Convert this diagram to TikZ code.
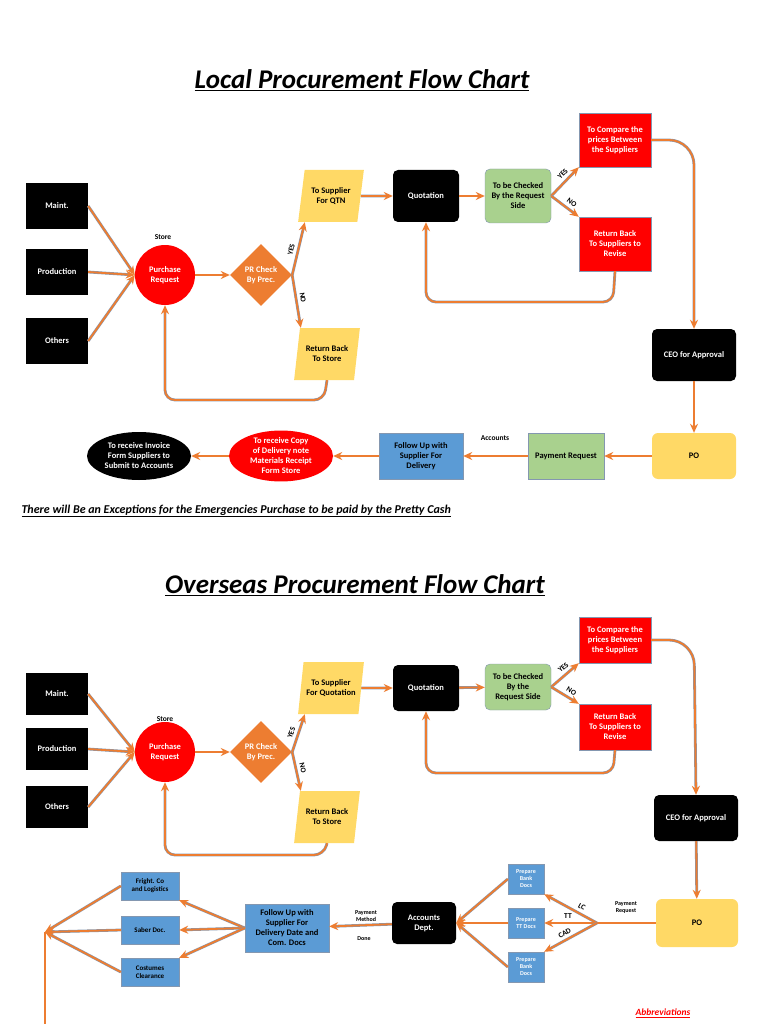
\documentclass[tikz,border=0pt]{standalone}
\usepackage{fontspec}
\setmainfont{Carlito}
\usetikzlibrary{shapes.geometric,arrows.meta,calc}
\definecolor{orng}{HTML}{ED7D31}
\definecolor{outl}{HTML}{8497B0}
\definecolor{ylw}{HTML}{FFD966}
\definecolor{grn}{HTML}{A9D18E}
\definecolor{blu}{HTML}{5B9BD5}
\tikzset{%
  base/.style = {font=\fontsize{8.5}{10}\selectfont\bfseries, align=center, inner sep=1pt},
  blk/.style = {base, rectangle, fill=black, text=white, minimum width=62pt, minimum height=46pt},
  blkr/.style = {blk, rounded corners=5pt},
  rbox/.style = {base, rectangle, fill=red, text=white, draw=outl, minimum width=72pt, minimum height=54pt},
  circ/.style = {base, circle, fill=red, text=white, minimum size=60pt},
  dia/.style = {base, diamond, fill=orng, text=white, minimum size=62pt, aspect=1, inner sep=0pt},
  para/.style = {base, trapezium, trapezium left angle=75, trapezium right angle=105,
        trapezium stretches=true, fill=ylw, minimum width=66pt, minimum height=52pt},
  grnr/.style = {base, rectangle, rounded corners=5pt, fill=grn, draw=outl, minimum width=66pt, minimum height=54pt},
  bbox/.style = {base, rectangle, fill=blu, draw=outl, minimum width=84pt, minimum height=46pt},
  sbox/.style = {base, rectangle, fill=blu, draw=outl, text=white, font=\fontsize{6}{7}\selectfont\bfseries},
  ylwr/.style = {base, rectangle, rounded corners=6pt, fill=ylw, minimum width=84pt, minimum height=46pt},
  lab/.style = {font=\fontsize{7.5}{8.5}\selectfont\bfseries, inner sep=1.5pt, align=center},
  slab/.style = {lab, font=\fontsize{6}{7}\selectfont\bfseries},
  ttl/.style = {font=\fontsize{27}{30}\selectfont\bfseries\itshape},
  arr/.style = {draw=orng, line width=1.8pt, -{Stealth[length=9pt,width=8pt]},
        preaction={draw=outl, line width=2.8pt, -, shorten >=6pt}},
  ln/.style = {draw=orng, line width=1.8pt, preaction={draw=outl, line width=2.8pt}}
}
\begin{document}
\begin{tikzpicture}[x=1pt,y=-1pt]
\useasboundingbox[fill=white] (0,0) rectangle (768,1024);

% ---------------- Local ----------------
\node[ttl] (t1) at (362,80) {\underline{Local Procurement Flow Chart}};
\node[blk] (m1) at (57,206) {Maint.};
\node[blk] (p1) at (57,272) {Production};
\node[blk] (o1) at (57,341) {Others};
\node[circ] (pr1) at (165,275) {Purchase\\Request};
\node[lab] (st1) at (163,237) {Store};
\node[dia] (ck1) at (261,275) {PR Check\\By Prec.};
\node[para] (qs1) at (331,196) {To Supplier\\For QTN};
\node[para] (rb1) at (327,354) {Return Back\\To Store};
\node[blkr, minimum width=66pt, minimum height=52pt] (q1) at (426,196) {Quotation};
\node[grnr] (cr1) at (518,196) {To be Checked\\By the Request\\Side};
\node[rbox] (cp1) at (615,140) {To Compare the\\prices Between\\the Suppliers};
\node[rbox] (rs1) at (615,244) {Return Back\\To Suppliers to\\Revise};
\node[blkr, minimum width=84pt, minimum height=52pt] (ceo1) at (694,355) {CEO for Approval};
\node[ylwr] (po1) at (694,456) {PO};
\node[base, rectangle, fill=grn, draw=outl, minimum width=76pt, minimum height=46pt] (pay1) at (566,456) {Payment Request};
\node[bbox] (fu1) at (421,456) {Follow Up with\\Supplier For\\Delivery};
\node[lab] (ac1) at (495,438) {Accounts};
\node[base, ellipse, fill=red, text=white, minimum width=104pt, minimum height=48pt, inner sep=0pt] (rc1) at (281,456) {To receive Copy\\of Delivery note\\Materials Receipt\\Form Store};
\node[base, ellipse, fill=black, text=white, minimum width=104pt, minimum height=48pt, inner sep=0pt] (ri1) at (139,456) {To receive Invoice\\Form Suppliers to\\Submit to Accounts};
\node[font=\fontsize{12}{14}\selectfont\bfseries\itshape, anchor=west] (nt1) at (18,511) {\underline{There will Be an Exceptions for the Emergencies Purchase to be paid by the Pretty Cash}};

\draw[arr] (m1.east) -- (pr1.west);
\draw[arr] (p1.east) -- (pr1.west);
\draw[arr] (o1.east) -- (pr1.west);
\draw[arr] (pr1) -- (ck1);
\draw[arr] (ck1.east) -- (qs1.south west) node[lab, pos=0.45, above=2pt, sloped] {YES};
\draw[arr] (ck1.east) -- (rb1.north west) node[lab, pos=0.45, above=2pt, sloped] {NO};
\draw[arr, rounded corners=10pt] (rb1.south) -- (324,400) -- (165,400) -- (pr1.south);
\draw[arr] (qs1) -- (q1);
\draw[arr] (q1) -- (cr1);
\draw[arr] (cr1.east) -- (cp1.south west) node[lab, pos=0.6, above=2pt, sloped] {YES};
\draw[arr] (cr1.east) -- (rs1.north west) node[lab, pos=0.6, above=2pt, sloped] {NO};
\draw[arr, rounded corners=10pt] (rs1.south) -- (613,302) -- (426,302) -- (q1.south);
\draw[arr, rounded corners=25pt] (cp1.east) -- (694,140) -- (ceo1.north);
\draw[arr] (ceo1) -- (po1);
\draw[arr] (po1) -- (pay1);
\draw[arr] (pay1) -- (fu1);
\draw[arr] (fu1) -- (rc1);
\draw[arr] (rc1) -- (ri1);

% ---------------- Overseas ----------------
\node[ttl] (t2) at (355,585) {\underline{Overseas Procurement Flow Chart}};
\node[blk, minimum height=42pt] (m2) at (57,694) {Maint.};
\node[blk, minimum height=42pt] (p2) at (57,749) {Production};
\node[blk, minimum height=42pt] (o2) at (57,807) {Others};
\node[circ] (pr2) at (165,752) {Purchase\\Request};
\node[lab] (st2) at (165,719) {Store};
\node[dia] (ck2) at (261,752) {PR Check\\By Prec.};
\node[para] (qs2) at (331,688) {To Supplier\\For Quotation};
\node[para] (rb2) at (327,817) {Return Back\\To Store};
\node[blkr, minimum width=66pt, minimum height=46pt] (q2) at (426,688) {Quotation};
\node[grnr, minimum height=46pt] (cr2) at (518,687) {To be Checked\\By the\\Request Side};
\node[rbox, minimum height=46pt] (cp2) at (615,640) {To Compare the\\prices Between\\the Suppliers};
\node[rbox, minimum height=46pt] (rs2) at (615,727) {Return Back\\To Suppliers to\\Revise};
\node[blkr, minimum width=84pt, minimum height=46pt] (ceo2) at (696,818) {CEO for Approval};
\node[ylwr, minimum width=82pt, minimum height=48pt] (po2) at (697,923) {PO};
\coordinate (j1) at (597,923);
\node[slab] (prq) at (626,908) {Payment\\Request};
\node[sbox, minimum width=36pt, minimum height=30pt] (pb1) at (526,879) {Prepare\\Bank\\Docs};
\node[sbox, minimum width=36pt, minimum height=30pt] (pt) at (526,923) {Prepare\\TT Docs};
\node[sbox, minimum width=36pt, minimum height=30pt] (pb2) at (526,967) {Prepare\\Bank\\Docs};
\node[blkr, minimum width=64pt, minimum height=42pt] (acd) at (424,923) {Accounts\\Dept.};
\node[slab] (pm) at (366,916) {Payment\\Method};
\node[slab] (dn) at (364,939) {Done};
\node[bbox, minimum height=48pt] (fu2) at (287,928) {Follow Up with\\Supplier For\\Delivery Date and\\Com. Docs};
\node[sbox, text=black, minimum width=58pt, minimum height=28pt, font=\fontsize{7}{8}\selectfont\bfseries] (fc) at (150,886) {Fright. Co\\and Logistics};
\node[sbox, text=black, minimum width=58pt, minimum height=28pt, font=\fontsize{7}{8}\selectfont\bfseries] (sd) at (150,930) {Saber Doc.};
\node[sbox, text=black, minimum width=58pt, minimum height=28pt, font=\fontsize{7}{8}\selectfont\bfseries] (cc) at (150,972) {Costumes\\Clearance};
\coordinate (j2) at (45,932);
\coordinate (j3) at (45,1024);
\node[font=\fontsize{9.5}{11}\selectfont\bfseries\itshape, text=red] (abb) at (663,1013) {\underline{Abbreviations}};

\draw[arr] (m2.east) -- (pr2.west);
\draw[arr] (p2.east) -- (pr2.west);
\draw[arr] (o2.east) -- (pr2.west);
\draw[arr] (pr2) -- (ck2);
\draw[arr] (ck2.east) -- (qs2.south west) node[lab, pos=0.45, above=2pt, sloped] {YES};
\draw[arr] (ck2.east) -- (rb2.north west) node[lab, pos=0.45, above=2pt, sloped] {NO};
\draw[arr, rounded corners=10pt] (rb2.south) -- (324,855) -- (165,855) -- (pr2.south);
\draw[arr] (qs2) -- (q2);
\draw[arr] (q2) -- (cr2);
\draw[arr] (cr2.east) -- (cp2.south west) node[lab, pos=0.6, above=2pt, sloped] {YES};
\draw[arr] (cr2.east) -- (rs2.north west) node[lab, pos=0.6, above=2pt, sloped] {NO};
\draw[arr, rounded corners=10pt] (rs2.south) -- (613,773) -- (426,773) -- (q2.south);
\draw[arr, rounded corners=25pt] (cp2.east) -- (694,640) -- (ceo2.north);
\draw[arr] (ceo2) -- (po2);
\draw[ln] (po2.west) -- (j1);
\draw[arr] (j1) -- (pb1.south east) node[lab, pos=0.35, above=2pt, sloped] {LC};
\draw[arr] (j1) -- (pt.east) node[lab, pos=0.55, above=2pt] {TT};
\draw[arr] (j1) -- (pb2.north east) node[lab, pos=0.55, above=2pt, sloped] {CAD};
\draw[arr] (pb1.west) -- (acd.east);
\draw[arr] (pt.west) -- (acd.east);
\draw[arr] (pb2.west) -- (acd.east);
\draw[arr] (acd) -- (fu2);
\draw[arr] (fu2.west) -- (fc.south east);
\draw[arr] (fu2.west) -- (sd.east);
\draw[arr] (fu2.west) -- (cc.north east);
\draw[arr] (fc.west) -- (j2);
\draw[arr] (sd.west) -- (j2);
\draw[arr] (cc.west) -- (j2);
\draw[ln] (j2) -- (j3);
\end{tikzpicture}
\end{document}
